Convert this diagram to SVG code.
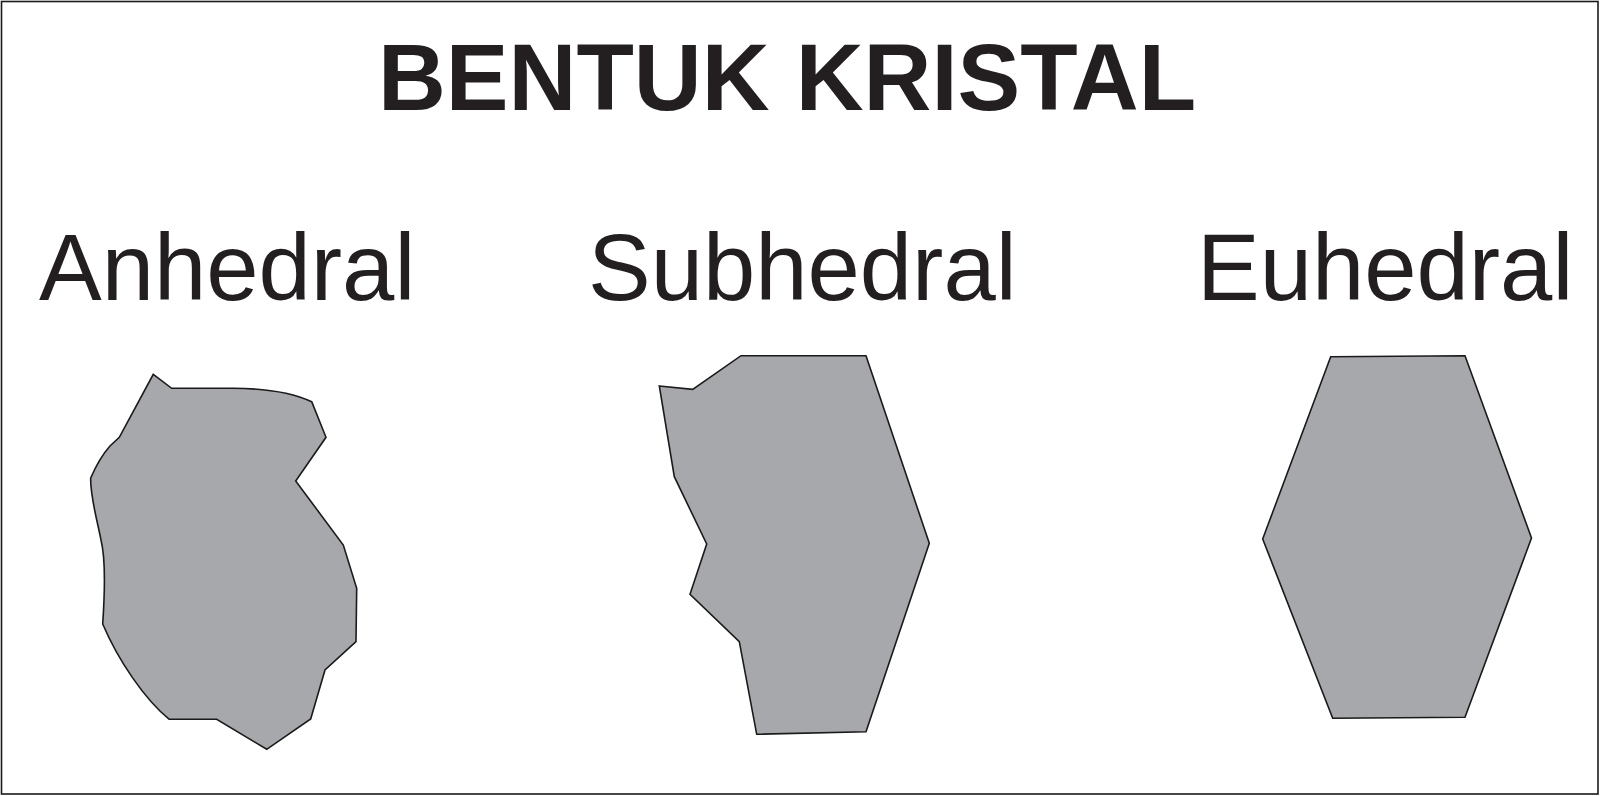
<svg xmlns="http://www.w3.org/2000/svg" width="1600" height="796" viewBox="0 0 1600 796">
<style>
.crystal{fill:#a7a8ab;stroke:#1a1a1a;stroke-width:1.6;stroke-linejoin:miter}
.title{font-family:"Liberation Sans",Arial,sans-serif;font-weight:bold;font-size:94px;fill:#231f20}
.label{font-family:"Liberation Sans",Arial,sans-serif;font-size:94px;fill:#231f20}
</style>
<rect x="1.5" y="1.5" width="1596.5" height="792.5" fill="#ffffff" stroke="#1a1a1a" stroke-width="1.6"/>
<g id="title"><text class="title" x="787" y="110" text-anchor="middle">BENTUK KRISTAL</text></g>
<g id="anhedral">
<text class="label" x="39" y="300">Anhedral</text>
<path class="crystal" d="M153.3,374.3 L171.7,388.3 L230,388.3 C270,388 295,394 311.7,401.7 L326,437.3 L295.7,481 L343.3,545 L356.7,588.3 L356,641.7 L325,670 L310.7,719 L266.7,749.3 L216.7,719.3 L169.3,719.3 C145,700 118,660 102.7,624 C105,590 106,560 101,540 C96,515 90,495 90.7,478 C95,468 102,455 110,446 L119.3,437.3 Z"/>
</g>
<g id="subhedral">
<text class="label" x="588" y="300">Subhedral</text>
<path class="crystal" d="M659.3,386 L692.7,389.3 L741,355.7 L866,355.7 L929.3,543.3 L866,731.7 L756.7,734.3 L739.3,641.7 L690,594.3 L706.7,544 L674.3,476.7 Z"/>
</g>
<g id="euhedral">
<text class="label" x="1197" y="300">Euhedral</text>
<path class="crystal" d="M1330.7,356.7 L1465,355.7 L1531.5,538 L1465,717.3 L1332.7,718.3 L1262.7,539 Z"/>
</g>
<g id="connectors"></g>
</svg>
